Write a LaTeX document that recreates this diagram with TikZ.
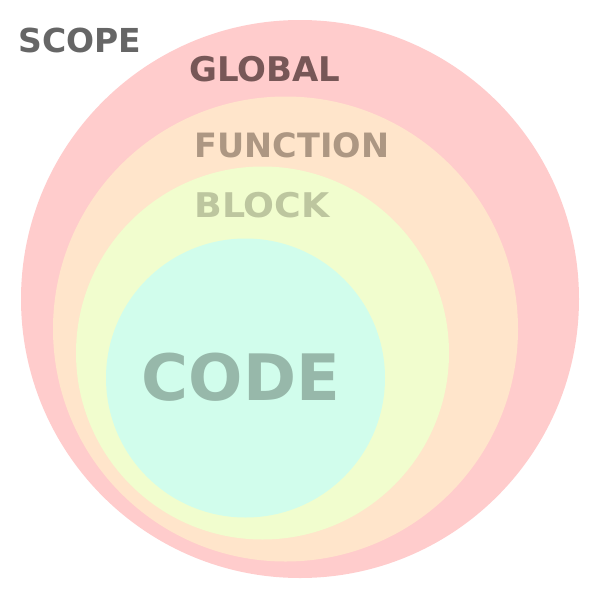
\documentclass[tikz,border=0pt]{standalone}
\usepackage{fontspec}
\setmainfont{DejaVu Sans}
\definecolor{GlobalFill}{HTML}{FFCCCC}
\definecolor{FunctionFill}{HTML}{FFE5CB}
\definecolor{BlockFill}{HTML}{F1FDCE}
\definecolor{CodeFill}{HTML}{D1FDEC}
\definecolor{ScopeText}{HTML}{666666}
\definecolor{GlobalText}{HTML}{775757}
\definecolor{FunctionText}{HTML}{AD9783}
\definecolor{BlockText}{HTML}{BDC69F}
\definecolor{CodeText}{HTML}{97B8AA}

\begin{document}
\begin{tikzpicture}[x=1pt,y=-1pt,
  scopename/.style={inner sep=0pt,font=\fontsize{33}{40}\selectfont\bfseries}]
\useasboundingbox (0,0) rectangle (600,600);
% nested scopes
\fill[GlobalFill] (300,299) circle (279);
\fill[FunctionFill] (285.5,329) circle (232.5);
\fill[BlockFill] (262.5,353) circle (186.5);
\fill[CodeFill] (245.5,378) circle (139.5);

\node[scopename,text=ScopeText] (scope) at (80,40) {SCOPE};
\node[scopename,text=GlobalText,font=\fontsize{34}{40}\selectfont\bfseries] (global) at (265,69) {GLOBAL};
\node[scopename,text=FunctionText,font=\fontsize{33.5}{40}\selectfont\bfseries] (function) at (292,145) {FUNCTION};
\node[scopename,text=BlockText,font=\fontsize{34}{40}\selectfont\bfseries,xscale=1.07] (block) at (262,205) {BLOCK};
\node[scopename,text=CodeText,font=\fontsize{64}{80}\selectfont\bfseries] (code) at (241,377) {CODE};
\end{tikzpicture}
\end{document}
